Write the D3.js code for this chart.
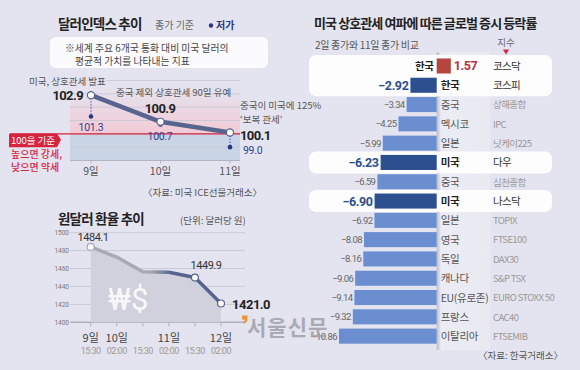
<!DOCTYPE html>
<html>
<head>
<meta charset="utf-8">
<script src="https://cdn.jsdelivr.net/npm/d3@7"></script>
<style>
  html, body { margin: 0; padding: 0; background: #e4e4f0; }
  svg { display: block; font-family: "Noto Sans CJK KR", "Noto Sans", sans-serif; }
  .num { font-family: Roboto, "Noto Sans CJK KR", sans-serif; }
</style>
</head>
<body>
<svg id="chart" width="580" height="370"></svg>
<script>
// dollar index (종가 / 저가)
var dxyDays  = ["9일", "10일", "11일"];
var dxyClose = [102.9, 100.9, 100.1];
var dxyLow   = [101.3, 100.7, 99.0];
var dxyTicks = [98, 99, 100, 101, 102, 103, 104];

// won/dollar rate
var krwSlots = ["9일 15:30", "10일 02:00", "10일 15:30", "11일 02:00", "11일 15:30", "12일 02:00"];
var krwDay   = ["9일", "10일", "", "11일", "", "12일"];
var krwHour  = ["15:30", "02:00", "15:30", "02:00", "15:30", "02:00"];
var krwRate  = [1484.1, 1472.8, 1456.4, 1455.8, 1449.9, 1421.0];
var krwLabeled = [0, 4, 5];
var krwTicks = [1400, 1420, 1440, 1460, 1480, 1500];

// global stock markets, 2nd vs 11th close (%)
var mktCountry = ["한국", "한국", "중국", "멕시코", "일본", "미국", "중국", "미국", "일본", "영국", "독일", "캐나다", "EU(유로존)", "프랑스", "이탈리아"];
var mktIndex   = ["코스닥", "코스피", "상해종합", "IPC", "닛케이225", "다우", "심천종합", "나스닥", "TOPIX", "FTSE100", "DAX30", "S&P TSX", "EURO STOXX 50", "CAC40", "FTSEMIB"];
var mktChange  = [1.57, -2.92, -3.34, -4.25, -5.99, -6.23, -6.59, -6.90, -6.92, -8.08, -8.16, -9.06, -9.14, -9.32, -10.86];
var mktFocus   = [true, true, false, false, false, true, false, true, false, false, false, false, false, false, false];

var svg = d3.select("#chart");
var defs = svg.append("defs");

svg.append("rect").attr("width", 580).attr("height", 370).attr("fill", "#e4e4f0");

/* ---------- 달러인덱스 ---------- */
var g1 = svg.append("g");
g1.append("text").attr("x", 58).attr("y", 29).attr("font-size", 13.5).attr("font-weight", 700)
  .attr("letter-spacing", -0.8).attr("fill", "#222").text("달러인덱스 추이");
g1.append("text").attr("x", 155).attr("y", 29).attr("font-size", 10).attr("fill", "#666").text("종가 기준");
g1.append("circle").attr("cx", 211).attr("cy", 25.5).attr("r", 2.2).attr("fill", "#2b3585");
g1.append("text").attr("x", 216).attr("y", 29).attr("font-size", 10).attr("font-weight", 700).attr("fill", "#2b3585").text("저가");

g1.append("rect").attr("x", 50).attr("y", 37).attr("width", 218).attr("height", 31).attr("rx", 6).attr("fill", "#fbfbfe");
g1.append("text").attr("x", 65).attr("y", 52).attr("font-size", 9.8).attr("fill", "#444").text("※세계 주요 6개국 통화 대비 미국 달러의");
g1.append("text").attr("x", 75).attr("y", 65).attr("font-size", 9.8).attr("fill", "#444").text("평균적 가치를 나타내는 지표");

var dx = d3.scalePoint().domain(dxyDays).range([91, 230]);
var dy = d3.scaleLinear().domain([98, 104]).range([160.5, 80.5]);

var pink = defs.append("linearGradient").attr("id", "pink").attr("x1", 0).attr("x2", 0).attr("y1", 0).attr("y2", 1);
pink.append("stop").attr("offset", "0%").attr("stop-color", "#f3c9d4").attr("stop-opacity", 0);
pink.append("stop").attr("offset", "100%").attr("stop-color", "#f3c9d4").attr("stop-opacity", 0.95);
g1.append("rect").attr("x", 70).attr("y", dy(103.6)).attr("width", 170).attr("height", dy(100) - dy(103.6)).attr("fill", "url(#pink)");
g1.append("rect").attr("x", 70).attr("y", dy(100)).attr("width", 170).attr("height", dy(98) - dy(100)).attr("fill", "#c9d4e5");

g1.selectAll(".dgrid").data(dxyTicks).enter().append("line")
  .attr("x1", 70).attr("x2", 240).attr("y1", function(d) { return dy(d); }).attr("y2", function(d) { return dy(d); })
  .attr("stroke", function(d) { return d === 98 ? "#b4b4c0" : "#cacad6"; }).attr("stroke-width", 1);
g1.selectAll(".dtick").data(dxyDays).enter().append("line")
  .attr("x1", function(d) { return dx(d); }).attr("x2", function(d) { return dx(d); })
  .attr("y1", dy(98)).attr("y2", dy(98) + 3).attr("stroke", "#b4b4c0");

// 100 baseline
g1.append("line").attr("x1", 10).attr("x2", 240).attr("y1", dy(100)).attr("y2", dy(100))
  .attr("stroke", "#d8233f").attr("stroke-width", 1.4);
g1.append("path").attr("d", "M9," + dy(100) + "h48l4,6l-4,7.5h-48z").attr("fill", "#d8233f");
g1.append("text").attr("x", 33).attr("y", dy(100) + 10.5).attr("text-anchor", "middle").attr("font-size", 9.5)
  .attr("fill", "#fff").text("100을 기준");
g1.append("text").attr("x", 11).attr("y", 158).attr("font-size", 10).attr("font-weight", 500).attr("fill", "#d8233f").text("높으면 강세,");
g1.append("text").attr("x", 11).attr("y", 171).attr("font-size", 10).attr("font-weight", 500).attr("fill", "#d8233f").text("낮으면 약세");

g1.append("text").attr("x", 29).attr("y", 85).attr("font-size", 9.5).attr("fill", "#555")
  .attr("stroke", "#e4e4f0").attr("stroke-width", 3).attr("paint-order", "stroke").text("미국, 상호관세 발표");
g1.append("text").attr("x", 116).attr("y", 96).attr("font-size", 9.5).attr("fill", "#555").text("중국 제외 상호관세 90일 유예");
g1.append("text").attr("x", 240).attr("y", 109).attr("font-size", 9.5).attr("fill", "#555").text("중국이 미국에 125%");
g1.append("text").attr("x", 240).attr("y", 123).attr("font-size", 9.5).attr("fill", "#555").text("‘보복 관세’");

// high-low connectors and low dots
g1.selectAll(".drop").data(dxyDays).enter().append("line")
  .attr("x1", function(d) { return dx(d); }).attr("x2", function(d) { return dx(d); })
  .attr("y1", function(d, i) { return dy(dxyClose[i]); }).attr("y2", function(d, i) { return dy(dxyLow[i]); })
  .attr("stroke", "#4a56a0").attr("stroke-width", 1).attr("stroke-dasharray", "1.5,1.5");
g1.selectAll(".lowdot").data(dxyDays).enter().append("circle")
  .attr("cx", function(d) { return dx(d); }).attr("cy", function(d, i) { return dy(dxyLow[i]); })
  .attr("r", 2.3).attr("fill", "#2b3585");

g1.append("path").datum(dxyClose)
  .attr("d", d3.line().x(function(d, i) { return dx(dxyDays[i]); }).y(function(d) { return dy(d); }))
  .attr("fill", "none").attr("stroke", "#56648e").attr("stroke-width", 4.5).attr("stroke-linejoin", "round");
g1.selectAll(".hidot").data(dxyClose).enter().append("circle")
  .attr("cx", function(d, i) { return dx(dxyDays[i]); }).attr("cy", function(d) { return dy(d); })
  .attr("r", 3.6).attr("fill", "#fff").attr("stroke", "#56648e").attr("stroke-width", 1.2);

var closePos = [[83, 100, "end"], [160, 113, "middle"], [240, 139.5, "start"]];
g1.selectAll(".closelab").data(dxyClose).enter().append("text").attr("class", "num")
  .attr("x", function(d, i) { return closePos[i][0]; }).attr("y", function(d, i) { return closePos[i][1]; })
  .attr("text-anchor", function(d, i) { return closePos[i][2]; })
  .attr("font-size", 13).attr("font-weight", 700).attr("letter-spacing", -0.6).attr("fill", "#222")
  .text(function(d) { return d.toFixed(1); });
var lowPos = [[91, 131, "middle"], [160, 139.5, "middle"], [243, 154, "start"]];
g1.selectAll(".lowlab").data(dxyLow).enter().append("text").attr("class", "num")
  .attr("x", function(d, i) { return lowPos[i][0]; }).attr("y", function(d, i) { return lowPos[i][1]; })
  .attr("text-anchor", function(d, i) { return lowPos[i][2]; })
  .attr("font-size", 10.5).attr("letter-spacing", -0.3).attr("fill", "#353e8e")
  .text(function(d) { return d.toFixed(1); });

g1.selectAll(".dday").data(dxyDays).enter().append("text")
  .attr("x", function(d) { return dx(d); }).attr("y", 175).attr("text-anchor", "middle")
  .attr("font-size", 10.5).attr("fill", "#555").text(function(d) { return d; });
g1.append("text").attr("x", 262).attr("y", 196).attr("text-anchor", "end").attr("font-size", 9.5)
  .attr("fill", "#555").text("〈자료: 미국 ICE선물거래소〉");

/* ---------- 원달러 환율 ---------- */
var g2 = svg.append("g");
g2.append("text").attr("x", 58).attr("y", 224).attr("font-size", 13.5).attr("font-weight", 700)
  .attr("letter-spacing", -0.8).attr("fill", "#222").text("원달러 환율 추이");
g2.append("text").attr("x", 180).attr("y", 224).attr("font-size", 9.5).attr("fill", "#555").text("(단위: 달러당 원)");

var kx = d3.scalePoint().domain(krwSlots).range([90.7, 221]);
var ky = d3.scaleLinear().domain([1400, 1500]).range([322.3, 232.7]);

g2.selectAll(".kgrid").data(krwTicks).enter().append("line")
  .attr("x1", 70).attr("x2", 245).attr("y1", function(d) { return ky(d); }).attr("y2", function(d) { return ky(d); })
  .attr("stroke", function(d) { return d === 1400 ? "#b0b0bc" : "#cacad6"; })
  .attr("stroke-width", function(d) { return d === 1400 ? 1.5 : 1; });
g2.selectAll(".klab").data(krwTicks).enter().append("text").attr("class", "num")
  .attr("x", 69).attr("y", function(d) { return ky(d) + 2.3; }).attr("text-anchor", "end")
  .attr("font-size", 6.5).attr("fill", "#777").text(function(d) { return d; });
g2.selectAll(".ktick").data(krwSlots).enter().append("line")
  .attr("x1", function(d) { return kx(d); }).attr("x2", function(d) { return kx(d); })
  .attr("y1", ky(1400)).attr("y2", ky(1400) + 4).attr("stroke", "#b0b0bc");

g2.append("path").datum(krwRate)
  .attr("d", d3.area().x(function(d, i) { return kx(krwSlots[i]); }).y0(ky(1400)).y1(function(d) { return ky(d); }))
  .attr("fill", "#d1d1dd");
g2.append("text").attr("x", 108).attr("y", 310).attr("font-size", 31).attr("font-family", "Roboto, sans-serif")
  .attr("fill", "#fff").attr("opacity", 0.85).text("₩$");

var lg = defs.append("linearGradient").attr("id", "krwline").attr("gradientUnits", "userSpaceOnUse")
  .attr("x1", 150).attr("x2", 172).attr("y1", 0).attr("y2", 0);
lg.append("stop").attr("offset", "0%").attr("stop-color", "#a9a9b4");
lg.append("stop").attr("offset", "100%").attr("stop-color", "#56648e");
g2.append("path").datum(krwRate)
  .attr("d", d3.line().x(function(d, i) { return kx(krwSlots[i]); }).y(function(d) { return ky(d); }))
  .attr("fill", "none").attr("stroke", "url(#krwline)").attr("stroke-width", 3.5).attr("stroke-linejoin", "round");
g2.selectAll(".kdot").data(krwLabeled).enter().append("circle")
  .attr("cx", function(i) { return kx(krwSlots[i]); }).attr("cy", function(i) { return ky(krwRate[i]); })
  .attr("r", 3.5).attr("fill", "#fff").attr("stroke", function(i) { return i === 0 ? "#a9a9b4" : "#56648e"; }).attr("stroke-width", 1.2);

var krwLabPos = { 0: [93, 241, "middle", 11, 400, "#333"], 4: [206, 269, "middle", 11, 400, "#333"], 5: [232, 309, "start", 13, 700, "#222"] };
g2.selectAll(".kval").data(krwLabeled).enter().append("text").attr("class", "num")
  .attr("x", function(i) { return krwLabPos[i][0]; }).attr("y", function(i) { return krwLabPos[i][1]; })
  .attr("text-anchor", function(i) { return krwLabPos[i][2]; })
  .attr("font-size", function(i) { return krwLabPos[i][3]; })
  .attr("font-weight", function(i) { return krwLabPos[i][4]; })
  .attr("letter-spacing", -0.5).attr("fill", function(i) { return krwLabPos[i][5]; })
  .text(function(i) { return krwRate[i].toFixed(1); });

g2.selectAll(".kday").data(krwSlots).enter().append("text")
  .attr("x", function(d) { return kx(d); }).attr("y", 342).attr("text-anchor", "middle")
  .attr("font-size", 11).attr("fill", "#444").text(function(d, i) { return krwDay[i]; });
g2.selectAll(".khour").data(krwSlots).enter().append("text").attr("class", "num")
  .attr("x", function(d) { return kx(d); }).attr("y", 354).attr("text-anchor", "middle")
  .attr("font-size", 9).attr("letter-spacing", -0.5).attr("fill", "#999").text(function(d, i) { return krwHour[i]; });

/* ---------- 글로벌 증시 등락률 ---------- */
var g3 = svg.append("g");
g3.append("text").attr("x", 314).attr("y", 28).attr("font-size", 13).attr("font-weight", 700)
  .attr("letter-spacing", -0.9).attr("fill", "#222").text("미국 상호관세 여파에 따른 글로벌 증시 등락률");
g3.append("text").attr("x", 315).attr("y", 49).attr("font-size", 10).attr("letter-spacing", -0.3)
  .attr("fill", "#555").text("2일 종가와 11일 종가 비교");
g3.append("text").attr("x", 506).attr("y", 46).attr("text-anchor", "middle").attr("font-size", 9.5)
  .attr("fill", "#666").text("지수");
g3.append("path").attr("d", "M503,49.5h6l-3,5z").attr("fill", "#d8233f");

var my = d3.scaleBand().domain(d3.range(mktChange.length)).range([54.2, 347.9]).padding(0.22);
var mx = d3.scaleLinear().domain([-11, 2]).range([337.7, 454.7]);

// column behind country names
var sh = defs.append("linearGradient").attr("id", "colshade").attr("x1", 0).attr("x2", 1).attr("y1", 0).attr("y2", 0);
sh.append("stop").attr("offset", "0%").attr("stop-color", "#b9b9c8");
sh.append("stop").attr("offset", "8%").attr("stop-color", "#ececf5");
sh.append("stop").attr("offset", "100%").attr("stop-color", "#e9e9f2");
g3.append("rect").attr("x", mx(0)).attr("y", 52).attr("width", 490 - mx(0)).attr("height", 298).attr("fill", "url(#colshade)");

// highlight rows
var focusGroups = [[0, 1], [5, 5], [7, 7]];
g3.selectAll(".hl").data(focusGroups).enter().append("rect")
  .attr("x", 309).attr("width", 243).attr("rx", 7)
  .attr("y", function(d) { return my(d[0]) - 3.5; })
  .attr("height", function(d) { return my(d[1]) + my.bandwidth() + 3.5 - my(d[0]) + 3.5; })
  .attr("fill", "#fff").attr("opacity", 0.9);

g3.selectAll(".bar").data(mktChange).enter().append("rect")
  .attr("x", function(d) { return mx(Math.min(0, d)); })
  .attr("width", function(d) { return Math.abs(mx(d) - mx(0)); })
  .attr("y", function(d, i) { return my(i); }).attr("height", my.bandwidth())
  .attr("fill", function(d, i) { return d > 0 ? "#b6453f" : (mktFocus[i] ? "#2c4f8f" : "#6a8ed0"); });

g3.selectAll(".mval").data(mktChange).enter().append("text").attr("class", "num")
  .attr("x", function(d) { return d > 0 ? mx(d) + 3 : mx(d) - 2; })
  .attr("y", function(d, i) { return my(i) + my.bandwidth() / 2 + (mktFocus[i] ? 4.5 : 3.5); })
  .attr("text-anchor", function(d) { return d > 0 ? "start" : "end"; })
  .attr("font-size", function(d, i) { return mktFocus[i] ? 12.5 : 9.5; })
  .attr("font-weight", function(d, i) { return mktFocus[i] ? 700 : 400; })
  .attr("letter-spacing", function(d, i) { return mktFocus[i] ? -0.4 : -0.6; })
  .attr("fill", function(d, i) { return d > 0 ? "#b6303e" : (mktFocus[i] ? "#2c4f8f" : "#666"); })
  .text(function(d) { return d > 0 ? d.toFixed(2) : "−" + Math.abs(d).toFixed(2); });

g3.selectAll(".mcountry").data(mktCountry).enter().append("text")
  .attr("x", function(d, i) { return mktChange[i] > 0 ? mx(0) - 3 : mx(0) + 4; })
  .attr("y", function(d, i) { return my(i) + my.bandwidth() / 2 + 4; })
  .attr("text-anchor", function(d, i) { return mktChange[i] > 0 ? "end" : "start"; })
  .attr("font-size", 10.5).attr("letter-spacing", -0.3)
  .attr("font-weight", function(d, i) { return mktFocus[i] ? 700 : 400; })
  .attr("fill", function(d, i) { return mktFocus[i] ? "#222" : "#555"; })
  .text(function(d) { return d; });

g3.selectAll(".mindex").data(mktIndex).enter().append("text")
  .attr("x", 493).attr("y", function(d, i) { return my(i) + my.bandwidth() / 2 + 3.8; })
  .attr("font-size", function(d, i) { return mktFocus[i] ? 10.5 : 9.5; })
  .attr("letter-spacing", -0.6)
  .attr("fill", function(d, i) { return mktFocus[i] ? "#333" : "#999"; })
  .text(function(d) { return d; });

g3.append("text").attr("x", 563).attr("y", 359).attr("text-anchor", "end").attr("font-size", 9.5)
  .attr("fill", "#555").text("〈자료: 한국거래소〉");

// watermark
svg.append("text").attr("x", 247).attr("y", 335).attr("font-size", 21).attr("font-weight", 700)
  .attr("letter-spacing", 1).attr("fill", "#9c9ca6").attr("opacity", 0.8).text("서울신문");
svg.append("path").attr("d", "M242,315.5h5.5v3.5c0,2.5-1.5,4-4,4.5l-0.8-1.4c1.4-0.4,2-1.2,2-2.6h-2.7z")
  .attr("fill", "#e8953a");
</script>
</body>
</html>
